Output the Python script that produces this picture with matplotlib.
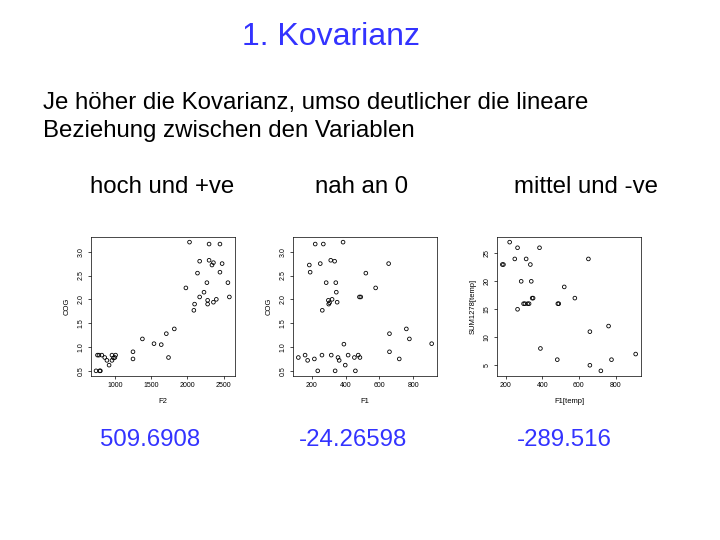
import matplotlib
matplotlib.use("Agg")
import matplotlib.pyplot as plt

plt.rcParams['font.family'] = ['Liberation Sans', 'DejaVu Sans']

f2 = [740,800,790,760,780,820,860,890,920,960,960,980,1000,1010,1250,1250,1380,1540,1640,1710,1740,1820,
      1980,2030,2090,2100,2140,2170,2170,2230,2270,2280,2280,2300,2300,2340,2360,2360,2400,2450,2450,2480,2560,2580]
cog1 = [0.5,0.5,0.5,0.83,0.83,0.83,0.78,0.72,0.62,0.72,0.83,0.77,0.78,0.83,0.9,0.75,1.17,1.07,1.05,1.28,0.78,1.38,
        2.24,3.2,1.77,1.9,2.55,2.8,2.05,2.15,2.35,1.9,1.98,2.82,3.16,2.72,2.77,1.94,2.0,3.16,2.57,2.75,2.35,2.05]

f1 = [120,160,175,185,190,215,220,235,250,260,262,268,285,298,300,305,312,315,320,335,338,342,345,350,355,362,
      385,390,398,415,452,458,475,482,485,490,520,578,655,660,660,718,760,778,910]
cog2 = [0.78,0.83,0.72,2.72,2.57,0.75,3.16,0.5,2.75,0.83,1.77,3.16,2.35,1.98,1.9,1.93,2.82,0.83,2.0,2.8,0.5,2.35,2.15,1.94,0.78,0.72,
        3.2,1.06,0.62,0.83,0.78,0.5,0.83,2.05,0.78,2.05,2.55,2.24,2.75,0.9,1.28,0.75,1.38,1.17,1.07]

f1temp = [182,188,222,250,265,265,285,298,305,312,320,328,335,340,345,350,385,390,482,485,490,520,578,652,660,660,720,762,778,910]
sum1278 = [23,23,27,24,26,15,20,16,16,24,16,16,23,20,17,17,26,8,6,16,16,19,17,24,11,5,4,12,6,7]

headings = ["hoch und +ve", "nah an 0", "mittel und -ve"]
values = ["509.6908", "-24.26598", "-289.516"]

blue = "#3333ff"
fig = plt.figure(figsize=(7.2, 5.4), dpi=100)
fig.text(331/720, 1-37/540, "1. Kovarianz", color=blue, fontsize=23, ha='center', va='center')
fig.text(43/720, 1-103/540, "Je höher die Kovarianz, umso deutlicher die lineare", fontsize=17.3, va='center')
fig.text(43/720, 1-131/540, "Beziehung zwischen den Variablen", fontsize=17.3, va='center')

panels = [
    (f2, cog1, "F2", "COG", [1000,1500,2000,2500], [0.5,1.0,1.5,2.0,2.5,3.0], 90.7),
    (f1, cog2, "F1", "COG", [200,400,600,800], [0.5,1.0,1.5,2.0,2.5,3.0], 293),
    (f1temp, sum1278, "F1[temp]", "SUM1278[temp]", [200,400,600,800], [5,10,15,20,25], 497),
]
heading_x = [162, 362, 586]
value_x = [150, 353, 564]
for i, (x, y, xl, yl, xt, yt, left) in enumerate(panels):
    ax = fig.add_axes([left/720, 1-376/540, 144/720, 139/540])
    ax.scatter(x, y, s=7, facecolors='none', edgecolors='black', linewidths=0.6)
    ax.margins(0.04)
    ax.set_xticks(xt)
    ax.set_yticks(yt)
    ax.set_xticklabels([str(v) for v in xt])
    ax.set_yticklabels([f"{v:.1f}" if isinstance(v, float) else str(v) for v in yt], rotation=90, va='center')
    ax.tick_params(labelsize=5, length=2.5, width=0.5, pad=2)
    ax.set_xlabel(xl, fontsize=5.5, labelpad=6)
    ax.set_ylabel(yl, fontsize=5.5, labelpad=5)
    for s in ax.spines.values():
        s.set_linewidth(0.5)
    fig.text(heading_x[i]/720, 1-187/540, headings[i], fontsize=17.3, ha='center', va='center')
    fig.text(value_x[i]/720, 1-440/540, values[i], color=blue, fontsize=17.3, ha='center', va='center')

fig.savefig("out.png", dpi=100)
